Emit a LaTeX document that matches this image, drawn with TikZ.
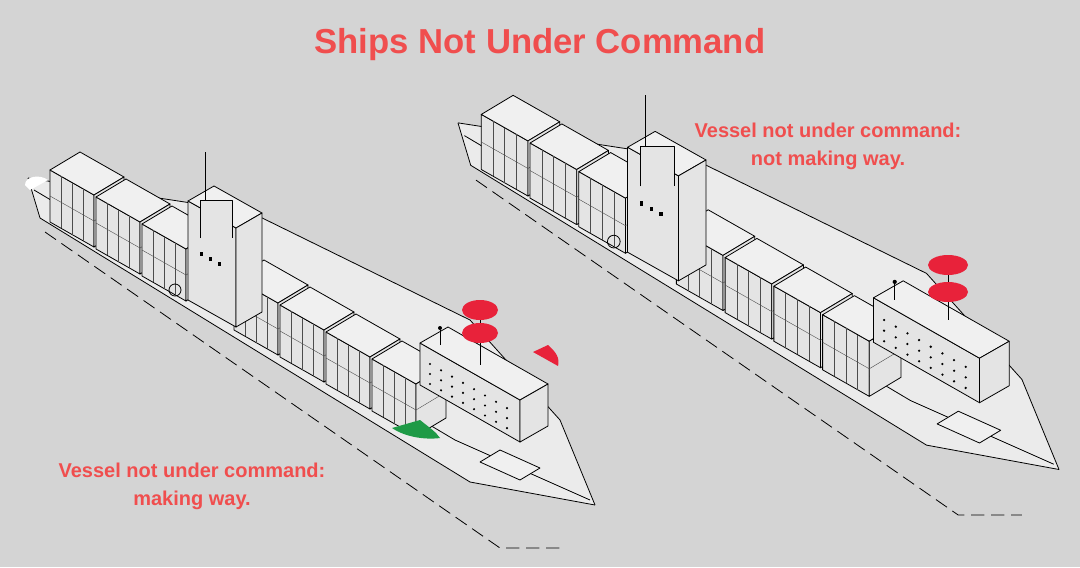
\documentclass[tikz,border=0pt]{standalone}
\usepackage{fontspec}
\setmainfont{Liberation Sans}
\definecolor{bg}{HTML}{D4D4D4}
\definecolor{ttl}{HTML}{F04E4E}
\definecolor{lred}{HTML}{E8223A}
\definecolor{lgreen}{HTML}{1E9A46}
\definecolor{cf}{HTML}{E4E4E4}
\definecolor{ct}{HTML}{F0F0F0}
\tikzset{
  ln/.style={draw=black, line width=0.6pt, line join=round},
  thin/.style={draw=black!70, line width=0.3pt},
  lab/.style={text=ttl, font=\bfseries\fontsize{15}{18}\selectfont, align=center},
  redlight/.style={fill=lred, draw=none}
}
\newcommand{\drawship}{%
  % hull
  \fill[white!92!black] (28,178) -- (250,212) -- (470,320) -- (560,420) -- (595,505) -- (470,482) -- (40,218) -- cycle;
  \draw[ln] (28,178) -- (250,212) -- (470,320) -- (560,420) -- (595,505);
  \draw[ln] (28,178) -- (40,218) -- (470,482) -- (595,505);
  \draw[ln] (34,190) -- (455,440) -- (590,500);
  \draw[ln, dashed, dash pattern=on 10pt off 5pt] (45,232) -- (500,548) -- (560,548);
  % containers
  \foreach \i in {0,...,7}{
    \pgfmathsetmacro{\ox}{50+\i*46}
    \pgfmathsetmacro{\oy}{222+\i*27}
    \ifnum\i=3\relax\else
    \fill[cf] (\ox,\oy) -- ++(44,25) -- ++(0,-52) -- ++(-44,-25) -- cycle;
    \draw[ln] (\ox,\oy) -- ++(44,25) -- ++(0,-52) -- ++(-44,-25) -- cycle;
    \fill[ct] (\ox,\oy-52) -- ++(44,25) -- ++(30,-18) -- ++(-44,-25) -- cycle;
    \draw[ln] (\ox,\oy-52) -- ++(44,25) -- ++(30,-18) -- ++(-44,-25) -- cycle;
    \fill[cf] (\ox+44,\oy+25) -- ++(30,-18) -- ++(0,-52) -- ++(-30,18) -- cycle;
    \draw[ln] (\ox+44,\oy+25) -- ++(30,-18) -- ++(0,-52) -- ++(-30,18) -- cycle;
    \foreach \k in {1,2,3}{\draw[thin] (\ox+\k*11,\oy+\k*6.25) -- ++(0,-52);}
    \draw[thin] (\ox,\oy-26) -- ++(44,25);
    \draw[thin] (\ox+44,\oy-1) -- ++(30,-18);
    \fi
  }
  % aft tower
  \fill[cf] (188,300) -- (236,327) -- (236,228) -- (188,201) -- cycle;
  \draw[ln] (188,300) -- (236,327) -- (236,228) -- (188,201) -- cycle;
  \fill[ct] (188,201) -- (236,228) -- (262,213) -- (214,186) -- cycle;
  \draw[ln] (188,201) -- (236,228) -- (262,213) -- (214,186) -- cycle;
  \fill[cf] (236,327) -- (262,312) -- (262,213) -- (236,228) -- cycle;
  \draw[ln] (236,327) -- (262,312) -- (262,213) -- (236,228) -- cycle;
  \fill[cf] (200,200) rectangle (232,238);
  \draw[ln] (200,238) -- (200,200) -- (232,200) -- (232,238);
  \draw[ln] (205,200) -- (205,152);
  \foreach \w in {0,1,2}{\fill (200+\w*9,252+\w*5) rectangle ++(3,4);}
  \draw[ln] (175,290) circle (6);
  % forward bridge
  \fill[cf] (420,385) -- (520,442) -- (520,400) -- (420,343) -- cycle;
  \draw[ln] (420,385) -- (520,442) -- (520,400) -- (420,343) -- cycle;
  \fill[ct] (420,343) -- (520,400) -- (548,384) -- (448,327) -- cycle;
  \draw[ln] (420,343) -- (520,400) -- (548,384) -- (448,327) -- cycle;
  \fill[cf] (520,442) -- (548,426) -- (548,384) -- (520,400) -- cycle;
  \draw[ln] (520,442) -- (548,426) -- (548,384) -- (520,400) -- cycle;
  \foreach \r in {0,1,2}{\foreach \c in {0,...,7}{\fill (430+\c*11,364+\c*6.3+\r*10) circle (1.2);}}
  \fill[ct] (480,462) -- (520,480) -- (540,468) -- (500,450) -- cycle;
  \draw[ln] (480,462) -- (520,480) -- (540,468) -- (500,450) -- cycle;
  \draw[ln] (440,345) -- (440,330); \fill (440,328) circle (2);
}
\begin{document}
\begin{tikzpicture}[x=0.75pt,y=-0.75pt]
\fill[bg] (0,0) rectangle (1080,567);
\useasboundingbox (0,0) rectangle (1080,567);
\node[lab, font=\bfseries\fontsize{26}{30}\selectfont] (title) at (540,45) {Ships Not Under Command};
% left ship
\begin{scope}
\drawship
\end{scope}
\draw[ln] (480,300) -- (480,365);
\fill[redlight] (480,310) ellipse (18 and 10);
\fill[redlight] (480,333) ellipse (18 and 10);
\fill[lred] (533,352) -- (548,345) .. controls (556,352) and (560,358) .. (558,366) -- cycle;
\fill[lgreen] (392,428) -- (420,420) .. controls (430,428) and (436,432) .. (440,438) .. controls (425,440) and (405,437) .. (392,428) -- cycle;
\fill[white] (25,185) .. controls (25,176) and (40,174) .. (48,180) -- (30,190) -- cycle;
% right ship
\begin{scope}[shift={(428.3,-65.8)}, scale=1.06]
\drawship
\end{scope}
\draw[ln] (948,255) -- (948,320);
\fill[redlight] (948,265) ellipse (20 and 10);
\fill[redlight] (948,292) ellipse (20 and 10);
% labels
\node[lab] (r1) at (828,130) {Vessel not under command:};
\node[lab] (r2) at (828,160) {not making way.};
\node[lab] (l1) at (192,470) {Vessel not under command:};
\node[lab] (l2) at (192,500) {making way.};
\end{tikzpicture}
\end{document}
